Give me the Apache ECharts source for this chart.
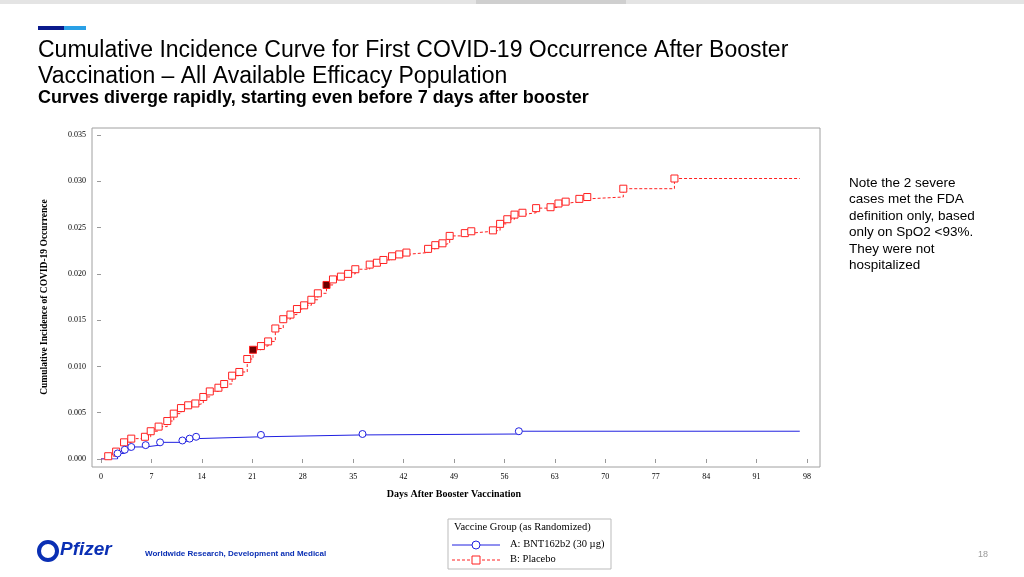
<!DOCTYPE html>
<html>
<head>
<meta charset="utf-8">
<script src="https://cdn.jsdelivr.net/npm/echarts@6/dist/echarts.min.js"></script>
<style>html,body{margin:0;padding:0;background:#fff}#main{width:1024px;height:577px}</style>
</head>
<body>
<div id="main"></div>
<script>
// 数据: [day, cumulative incidence]
var vaccineDays = [0, 2.3, 3.3, 4.2, 6.2, 8.2, 11.3, 12.3, 13.2, 22.2, 36.3, 58.0, 97];
var vaccineVals = [0, 0.0006, 0.0010, 0.0013, 0.0015, 0.0018, 0.0020, 0.0022, 0.0024, 0.0026, 0.0027, 0.0030, 0.0030];
var placeboDays = [0, 1.0, 2.1, 3.2, 4.2, 6.1, 6.9, 8.0, 9.2, 10.1, 11.1, 12.1, 13.1, 14.2, 15.1, 16.3, 17.1, 18.2, 19.2, 20.3, 21.1, 22.2, 23.2, 24.2, 25.3, 26.3, 27.2, 28.2, 29.2, 30.1, 31.3, 32.2, 33.3, 34.3, 35.3, 37.3, 38.3, 39.2, 40.4, 41.4, 42.4, 45.4, 46.4, 47.4, 48.4, 50.5, 51.4, 54.4, 55.4, 56.4, 57.4, 58.5, 60.4, 62.4, 63.5, 64.5, 66.4, 67.5, 72.5, 79.6, 97];
var placeboVals = [0, 0.0003, 0.0008, 0.0018, 0.0022, 0.0024, 0.0030, 0.0035, 0.0041, 0.0049, 0.0055, 0.0058, 0.0060, 0.0067, 0.0073, 0.0077, 0.0081, 0.0090, 0.0094, 0.0108, 0.0118, 0.0122, 0.0127, 0.0141, 0.0151, 0.0156, 0.0162, 0.0166, 0.0172, 0.0179, 0.0188, 0.0194, 0.0197, 0.0200, 0.0205, 0.0210, 0.0212, 0.0215, 0.0219, 0.0221, 0.0223, 0.0227, 0.0231, 0.0233, 0.0241, 0.0244, 0.0246, 0.0247, 0.0254, 0.0259, 0.0264, 0.0266, 0.0271, 0.0272, 0.0276, 0.0278, 0.0281, 0.0283, 0.0292, 0.0303, 0.0303];
var severeDays = [21.1, 31.3]; // 重症病例 (实心方块)

var myChart = echarts.init(document.getElementById('main'));

function pairs(days, vals) {
	return days.map(function (d, i) { return [d, vals[i]]; });
}
function symbolFor(name, len) {
	return function (v, p) { return (p.dataIndex === 0 || p.dataIndex === len - 1) ? 'none' : name; };
}

var serif = 'Liberation Serif, DejaVu Serif, serif';
var sans = 'Liberation Sans, Arial, sans-serif';

var option = {
	animation: false,
	grid: { left: 101, top: 135, width: 706, height: 324 },
	xAxis: {
		type: 'value', min: 0, max: 98, interval: 7, offset: 8,
		name: 'Days After Booster Vaccination', nameLocation: 'middle', nameGap: 22,
		nameTextStyle: { fontFamily: serif, fontWeight: 'bold', fontSize: 10, color: '#000' },
		axisLine: { show: false },
		axisTick: { show: true, length: 4, lineStyle: { color: '#999' } },
		axisLabel: { fontFamily: serif, fontSize: 8, color: '#000', margin: 6 },
		splitLine: { show: false }
	},
	yAxis: {
		type: 'value', min: 0, max: 0.035, interval: 0.005, offset: 9,
		name: 'Cumulative Incidence of COVID-19 Occurrence', nameLocation: 'middle', nameGap: 42,
		nameTextStyle: { fontFamily: serif, fontWeight: 'bold', fontSize: 9.5, color: '#000' },
		axisLine: { show: false },
		axisTick: { show: true, length: 4, lineStyle: { color: '#999' } },
		axisLabel: { fontFamily: serif, fontSize: 8, color: '#000', margin: 6, formatter: function (v) { return v.toFixed(3); } },
		splitLine: { show: false }
	},
	series: [{
		name: 'B: Placebo', type: 'line', step: 'end',
		data: pairs(placeboDays, placeboVals),
		symbol: symbolFor('rect', placeboDays.length), symbolSize: 7, showAllSymbol: true,
		lineStyle: { color: '#ff2020', width: 1, type: [3, 2] },
		itemStyle: {
			borderColor: '#ff2020', borderWidth: 1,
			color: function (p) { return severeDays.indexOf(p.value[0]) >= 0 ? '#6b0000' : '#fff'; }
		}
	}, {
		name: 'A: BNT162b2 (30 µg)', type: 'line', step: 'end',
		data: pairs(vaccineDays, vaccineVals),
		symbol: symbolFor('circle', vaccineDays.length), symbolSize: 7, showAllSymbol: true,
		lineStyle: { color: '#2020e0', width: 1 },
		itemStyle: { color: '#fff', borderColor: '#2020e0', borderWidth: 1 }
	}],
	graphic: [
		{ type: 'rect', shape: { x: 0, y: 0, width: 1024, height: 4 }, style: { fill: '#e4e4e4' } },
		{ type: 'rect', shape: { x: 476, y: 0, width: 150, height: 4 }, style: { fill: '#cfcfcf' } },
		{ type: 'rect', shape: { x: 38, y: 26, width: 26, height: 4 }, style: { fill: '#0a1a8c' } },
		{ type: 'rect', shape: { x: 64, y: 26, width: 22, height: 4 }, style: { fill: '#2aa0e6' } },
		{ type: 'text', left: 38, top: 38, style: { text: 'Cumulative Incidence Curve for First COVID-19 Occurrence After Booster\nVaccination – All Available Efficacy Population', font: '23px ' + sans, fill: '#000', lineHeight: 26 } },
		{ type: 'text', left: 38, top: 89, style: { text: 'Curves diverge rapidly, starting even before 7 days after booster', font: 'bold 18px ' + sans, fill: '#000' } },
		{ type: 'rect', shape: { x: 92, y: 128, width: 728, height: 339 }, style: { fill: 'none', stroke: '#a0a0a0', lineWidth: 1 } },
		{ type: 'text', left: 849, top: 175, style: { text: 'Note the 2 severe\ncases met the FDA\ndefinition only, based\nonly on SpO2 <93%.\nThey were not\nhospitalized', font: '13.5px ' + sans, fill: '#000', lineHeight: 16.5 } },
		// legend box
		{ type: 'rect', shape: { x: 448, y: 519, width: 163, height: 50 }, style: { fill: '#fff', stroke: '#bbb', lineWidth: 1 } },
		{ type: 'text', left: 454, top: 522, style: { text: 'Vaccine Group (as Randomized)', font: '10.5px ' + serif, fill: '#000' } },
		{ type: 'line', shape: { x1: 452, y1: 545, x2: 500, y2: 545 }, style: { stroke: '#2020e0', lineWidth: 1 } },
		{ type: 'circle', shape: { cx: 476, cy: 545, r: 4 }, style: { fill: '#fff', stroke: '#2020e0' } },
		{ type: 'text', left: 510, top: 539, style: { text: 'A: BNT162b2 (30 µg)', font: '10.5px ' + serif, fill: '#000' } },
		{ type: 'line', shape: { x1: 452, y1: 560, x2: 500, y2: 560 }, style: { stroke: '#ff2020', lineWidth: 1, lineDash: [3, 2] } },
		{ type: 'rect', shape: { x: 472, y: 556, width: 8, height: 8 }, style: { fill: '#fff', stroke: '#ff2020' } },
		{ type: 'text', left: 510, top: 554, style: { text: 'B: Placebo', font: '10.5px ' + serif, fill: '#000' } },
		// footer
		{ type: 'text', left: 60, top: 540, style: { text: 'Pfizer', font: 'italic bold 19px ' + sans, fill: '#0a2fb4' } },
		{ type: 'circle', shape: { cx: 48, cy: 551, r: 9 }, style: { fill: 'none', stroke: '#0a2fb4', lineWidth: 4 } },
		{ type: 'text', left: 145, top: 550, style: { text: 'Worldwide Research, Development and Medical', font: 'bold 8px ' + sans, fill: '#0a2fb4' } },
		{ type: 'text', left: 978, top: 550, style: { text: '18', font: '9px ' + sans, fill: '#999' } }
	]
};

myChart.setOption(option);
</script>
</body>
</html>
